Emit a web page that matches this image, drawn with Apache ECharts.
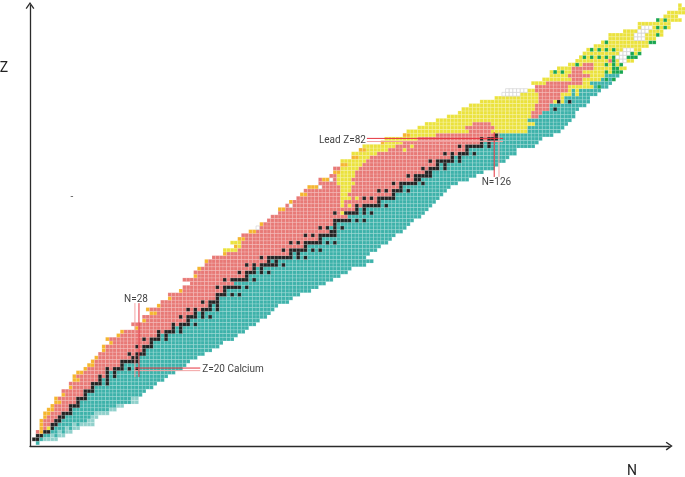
<!DOCTYPE html>
<html><head><meta charset="utf-8">
<script src="https://cdn.jsdelivr.net/npm/echarts@6/dist/echarts.min.js"></script>
<style>html,body{margin:0;padding:0;background:#fff}#c{width:685px;height:477px}</style>
</head><body><div id="c"></div>
<script>
// ---- DATA (read from the picture / chart of nuclides) ----
// index = Z (proton number) 0..118
const nMin = [1,0,1,1,2,2,2,3,3,4,5,6,6,8,8,10,10,11,11,12,14,15,16,17,18,19,19,21,20,23,24,28,27,30,30,32,31,34,35,37,37,40,41,43,41,44,44,45,47,47,49,52,52,55,54,56,57,59,61,62,64,65,67,67,69,70,72,73,74,75,78,78,81,82,82,84,84,87,87,89,90,95,96,101,102,105,107,110,113,116,117,119,122,126,128,129,137,136,139,141,141,143,146,148,149,150,151,153,155,157,157,161,165,165,170,172,173,176,176];
const nMax = [1,6,8,10,12,16,16,17,20,22,24,28,28,29,30,32,33,35,36,38,40,41,42,44,46,48,50,51,54,55,57,58,60,61,63,64,65,66,69,70,72,75,77,79,81,83,85,86,90,92,90,91,93,94,96,97,98,100,101,102,103,105,106,107,108,109,110,111,112,113,115,118,120,122,125,126,128,129,131,131,136,137,138,141,143,144,145,146,147,147,148,150,151,151,153,154,156,157,158,159,160,161,160,163,164,165,165,167,169,169,171,171,173,173,176,175,177,177,176];
// stable (black) neutron numbers per Z
const stableN = [[],[0,1],[1,2],[3,4],[5],[5,6],[6,7],[7,8],[8,9,10],[10],[10,11,12],[12],[12,13,14],[14],[14,15,16],[16],[16,17,18,20],[18,20],[18,20,22],[20,22],[20,22,23,24,26,28],[24],[24,25,26,27,28],[27,28],[26,28,29,30],[30],[28,30,31,32],[32],[30,32,33,34,36],[34,36],[34,36,37,38,40],[38,40],[38,40,41,42,44],[42],[40,42,43,44,46,48],[44,46],[42,44,46,47,48,50],[48,50],[46,48,49,50],[50],[50,51,52,54,56],[52],[50,52,53,54,55,56,58],[],[52,54,55,56,57,58,60],[58],[56,58,59,60,62,64],[60,62],[58,60,62,63,64,65,66,68],[64,66],[62,64,65,66,67,68,69,70,72,74],[70,72],[68,70,71,72,73,74,76,78],[74],[70,72,74,75,76,77,78,80,82],[78],[74,76,78,79,80,81,82],[81,82],[78,80,82,84],[82],[82,83,84,85,86,88,90],[],[82,85,86,87,88,90,92],[88,90],[88,90,91,92,93,94,96],[94],[90,92,94,95,96,97,98],[98],[94,96,98,99,100,102],[100],[98,100,101,102,103,104,106],[104,105],[102,104,105,106,107,108],[107,108],[106,108,109,110,112],[110,112],[108,110,111,112,113,114,116],[114,116],[112,114,116,117,118,120],[118],[116,118,119,120,121,122,124],[122,124],[122,124,125,126],[126],[],[],[],[],[],[],[142],[],[143,146]];
// elements without stable isotopes: first N of the beta-minus side
const splitZ = [0,43,61,84,85,86,87,88,89,91,93,94,95,96,97,98,99];
const splitN = [0,55,86,135,135,137,135,138,139,141,145,147,147,153,152,155,156];
// runs [Z, Nfrom, Nto]
const alphaRuns = [[4,4,4],[52,52,55],[53,55,56],[54,54,56],[62,84,84],[64,84,84],[64,86,86],[65,84,84],[66,84,86],[66,88,88],[67,84,85],[68,84,86],[69,84,86],[70,83,87],[71,83,86],[72,83,87],[73,84,87],[74,84,88],[75,84,89],[76,84,90],[77,87,91],[78,87,93],[79,89,96],[79,101,101],[80,90,98],[80,103,103],[81,95,100],[82,96,104],[83,101,109],[84,102,118],[84,125,134],[85,105,117],[85,126,134],[86,107,119],[86,125,136],[87,110,134],[88,113,135],[89,116,135],[90,117,136],[91,119,136],[92,122,137],[92,142,142],[92,144,144],[93,126,137],[93,144,144],[94,133,137],[94,144,146],[94,148,148],[95,135,136],[95,146,146],[95,148,148],[96,146,152],[97,136,139],[97,150,151],[98,139,146],[98,150,154],[99,141,145],[99,152,155],[100,141,160],[101,143,161],[102,146,160],[103,148,163],[104,149,164],[105,150,165],[106,151,165],[107,153,167],[108,155,169],[109,157,169],[110,157,171],[111,161,171],[112,165,173],[113,165,173],[114,170,176],[115,172,175],[116,173,177],[117,176,177],[118,176,176]];
const ecRuns = [[100,147,149],[101,147,152],[102,150,152],[103,157,157]];
const betaRuns = [[90,141,141]];
const protonCells = [[3,2],[4,2],[5,2],[6,2],[7,3],[8,3],[8,4],[9,4],[9,5],[10,5],[11,6],[11,7],[12,6],[13,8],[15,10],[17,11],[17,12],[18,11],[19,12],[19,13],[20,14],[21,15],[21,16],[22,16],[23,17],[25,19],[26,19],[27,21],[28,20],[29,23],[30,24],[31,28],[33,30],[35,32],[35,33],[36,31],[37,34],[39,37],[41,40],[45,44],[47,45],[49,47],[51,52],[53,55],[55,56],[55,57],[57,59],[57,60],[59,62],[63,67],[63,68],[65,70],[67,73],[67,74],[69,75],[69,76],[69,77],[71,79],[71,80],[73,82],[73,83],[75,84],[75,85],[77,87],[77,88],[79,89],[79,90],[81,95],[83,101],[83,102]];
const fissionCells = [[96,154],[98,156],[98,158],[100,142],[100,144],[100,156],[100,158],[100,159],[100,160],[101,158],[101,159],[102,148],[102,156],[102,158],[102,160],[103,158],[104,150],[104,152],[104,154],[104,156],[104,158],[104,162],[104,163],[104,164],[105,163],[105,165],[106,152],[106,154],[106,156],[106,158],[108,156],[108,168],[108,169],[110,170],[112,170],[112,172],[114,170],[114,172]];
const neutronRuns = [[1,3,6],[2,5,5],[2,7,8],[3,7,7],[3,9,10],[4,9,9],[4,11,12],[5,11,11],[5,13,16],[6,15,16],[7,16,17],[8,17,20],[9,21,22],[10,23,24],[11,27,28],[12,27,28]];
const unknownRuns = [[58,61,61],[64,70,70],[69,78,78],[71,81,81],[94,128,132],[95,129,134],[103,160,161],[104,159,161],[105,160,162],[106,161,163],[109,164,166],[110,164,166],[111,165,167],[112,166,168]];
// annotations: [label, kind, value]
const marks = [['Z=20 Calcium','Z',20],['N=28','N',28],['Lead Z=82','Z',82],['N=126','N',126]];

// ---- build cells ----
const FILL = ['#222222','#e87976','#3db2aa','#ebe23c','#f5b52e','#17a650','#8fd0cb','#ffffff'];
const STROKE = ['rgba(255,255,255,0.18)','rgba(255,255,255,0.22)','rgba(255,255,255,0.22)','rgba(255,255,255,0.28)','rgba(255,255,255,0.22)','rgba(255,255,255,0.22)','rgba(255,255,255,0.28)','#cfcfcf'];
const grid = new Map();
for (let z = 0; z < nMin.length; z++) {
  const st = stableN[z] || [];
  const si = splitZ.indexOf(z);
  const sp = si >= 0 ? splitN[si] : 999;
  for (let n = nMin[z]; n <= nMax[z]; n++) {
    let t;
    if (st.length) {
      const f = st[0], l = st[st.length - 1];
      if (st.includes(n)) t = 0;
      else if (n < f) t = 1;
      else if (n > l) t = 2;
      else t = (n < (f + l) / 2) ? 1 : 2;
    } else t = n < sp ? 1 : 2;
    grid.set(z + ',' + n, t);
  }
}
function applyRuns(runs, t){ runs.forEach(r => { for (let n = r[1]; n <= r[2]; n++) { const k = r[0] + ',' + n; if (grid.has(k) && grid.get(k) !== 0) grid.set(k, t); } }); }
function applyCells(cells, t){ cells.forEach(c => { const k = c[0] + ',' + c[1]; if (grid.has(k) && grid.get(k) !== 0) grid.set(k, t); }); }
applyRuns(alphaRuns, 3);
applyRuns(ecRuns, 1);
applyRuns(betaRuns, 2);
applyRuns(neutronRuns, 6);
applyRuns(unknownRuns, 7);
applyCells(protonCells, 4);
applyCells(fissionCells, 5);
const data = [];
grid.forEach((t, k) => { const [z, n] = k.split(',').map(Number); data.push([n, z, t]); });

const chart = echarts.init(document.getElementById('c'), null, {renderer: 'canvas'});
const arrowPath = 'path://M5,0 L10,7 L8.8,8 L5,2.6 L1.2,8 L0,7 Z';
chart.setOption({
  animation: false,
  grid: {left: 30, right: 15.8, top: 5.5, bottom: 31, containLabel: false},
  xAxis: {type: 'value', min: -1.09, max: 173.08, splitLine: {show: false}, axisTick: {show: false}, axisLabel: {show: false},
    axisLine: {show: true, onZero: false, lineStyle: {color: '#2b2b2b', width: 1.3}, symbol: ['none', arrowPath], symbolSize: [9, 7]}},
  yAxis: {type: 'value', min: -0.81, max: 117.92, splitLine: {show: false}, axisTick: {show: false}, axisLabel: {show: false},
    axisLine: {show: true, onZero: false, lineStyle: {color: '#2b2b2b', width: 1.3}, symbol: ['none', arrowPath], symbolSize: [9, 7]}},
  series: [{
    type: 'custom', coordinateSystem: 'cartesian2d', clip: false, data: data,
    renderItem: function (params, api) {
      const n = api.value(0), z = api.value(1), t = api.value(2);
      const a = api.coord([n - 0.5, z + 0.5]), b = api.coord([n + 0.5, z - 0.5]);
      return {type: 'rect', shape: {x: a[0], y: a[1], width: b[0] - a[0], height: b[1] - a[1]},
        style: {fill: FILL[t], stroke: STROKE[t], lineWidth: 0.6}};
    }
  }]
});

// ---- annotations ----
const px = (n, z) => chart.convertToPixel({gridIndex: 0}, [n, z]);
const RED = '#e5323e', RED2 = '#f3a2a2';
const FONT = '10px Roboto, "Liberation Sans", Arial, sans-serif';
const g = [];
function hline(z, n0, n1, c){ const a = px(n0, z), b = px(n1, z); g.push({type:'line', shape:{x1:a[0], y1:a[1], x2:b[0], y2:b[1]}, style:{stroke:c, lineWidth:1}, z:10}); }
function vline(n, z0, z1, c){ const a = px(n, z0), b = px(n, z1); g.push({type:'line', shape:{x1:a[0], y1:a[1], x2:b[0], y2:b[1]}, style:{stroke:c, lineWidth:1}, z:10}); }
function label(txt, x, y, align){ g.push({type:'text', x:x, y:y, style:{text:txt, fill:'#444', font:FONT, textAlign:align, textVerticalAlign:'middle'}, z:11}); }
marks.forEach(m => {
  const [txt, kind, v] = m;
  if (kind === 'Z' && v === 20) {
    hline(v + 0.2, 27.5, 45.3, RED); hline(v - 0.5, 27.5, 45.3, RED2);
    const p = px(45.3, v); label(txt, p[0] + 2, p[1] + 0.7, 'left');
  } else if (kind === 'N' && v === 28) {
    vline(v - 0.5, 37.7, 17.8, RED2); vline(v + 0.6, 37.7, 17.8, RED);
    const p = px(v - 0.2, 37.7); label(txt, p[0], p[1] - 4, 'center');
  } else if (kind === 'Z' && v === 82) {
    hline(v + 0.1, 90.7, 127.8, RED); hline(v - 0.75, 90.7, 127.8, RED2);
    const p = px(90.7, v); label(txt, p[0] - 1, p[1] + 1.5, 'right');
  } else if (kind === 'N' && v === 126) {
    vline(v - 0.6, 83.8, 71.7, RED); vline(v + 0.7, 83.8, 71.7, RED2);
    const p = px(v, 71.7); label(txt, p[0], p[1] + 6, 'center');
  }
});
g.push({type:'text', x:4, y:68, style:{text:'Z', fill:'#222', font:'14px Roboto, "Liberation Sans", Arial, sans-serif', textAlign:'center', textVerticalAlign:'middle'}});
g.push({type:'text', x:632, y:471, style:{text:'N', fill:'#222', font:'14px Roboto, "Liberation Sans", Arial, sans-serif', textAlign:'center', textVerticalAlign:'middle'}});
g.push({type:'text', x:72, y:197, style:{text:'-', fill:'#555', font:FONT, textAlign:'center', textVerticalAlign:'middle'}});
chart.setOption({graphic: g});
</script></body></html>
